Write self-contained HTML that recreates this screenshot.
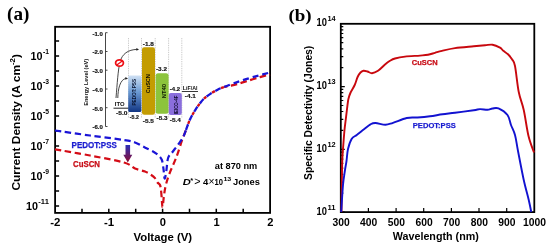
<!DOCTYPE html><html><head><meta charset="utf-8"><style>html,body{margin:0;padding:0;background:#fff;width:550px;height:248px;overflow:hidden}svg{display:block;filter:blur(0.3px)}</style></head><body>
<svg width="550" height="248" viewBox="0 0 550 248">
<rect width="550" height="248" fill="#fff"/>
<defs><linearGradient id="gPed" x1="0" y1="0" x2="0" y2="1"><stop offset="0" stop-color="#cfe0f3"/><stop offset="0.45" stop-color="#6b9ad3"/><stop offset="1" stop-color="#123684"/></linearGradient><linearGradient id="gArr" x1="0" y1="0" x2="0" y2="1"><stop offset="0" stop-color="#2b2fb8"/><stop offset="1" stop-color="#8e0c2e"/></linearGradient></defs>
<text x="7.00" y="19.50" font-family='"Liberation Serif", serif' font-weight="bold" font-size="18.80" textLength="22.40" lengthAdjust="spacingAndGlyphs">(a)</text>
<path d="M55.1,41.0h4 M55.1,56.0h4 M55.1,71.0h4 M55.1,86.0h4 M55.1,101.0h4 M55.1,116.0h4 M55.1,131.0h4 M55.1,146.0h4 M55.1,161.0h4 M55.1,176.0h4 M55.1,191.0h4 M55.1,206.0h4 M82.0,212.8v-4 M108.8,212.8v-4 M135.7,212.8v-4 M162.6,212.8v-4 M189.5,212.8v-4 M216.3,212.8v-4 M243.2,212.8v-4" stroke="#000" stroke-width="1.5" fill="none"/>
<rect x="55.1" y="26.8" width="215.0" height="186.1" fill="none" stroke="#000" stroke-width="1.8"/>
<text x="48.90" y="53.80" font-family='"Liberation Sans", sans-serif' font-weight="bold" font-size="7.20" textLength="6.00" lengthAdjust="spacingAndGlyphs" text-anchor="end">-1</text>
<text x="42.60" y="60.30" font-family='"Liberation Sans", sans-serif' font-weight="bold" font-size="11.00" textLength="12.00" lengthAdjust="spacingAndGlyphs" text-anchor="end">10</text>
<text x="48.90" y="83.80" font-family='"Liberation Sans", sans-serif' font-weight="bold" font-size="7.20" textLength="6.00" lengthAdjust="spacingAndGlyphs" text-anchor="end">-3</text>
<text x="42.60" y="90.30" font-family='"Liberation Sans", sans-serif' font-weight="bold" font-size="11.00" textLength="12.00" lengthAdjust="spacingAndGlyphs" text-anchor="end">10</text>
<text x="48.90" y="113.80" font-family='"Liberation Sans", sans-serif' font-weight="bold" font-size="7.20" textLength="6.00" lengthAdjust="spacingAndGlyphs" text-anchor="end">-5</text>
<text x="42.60" y="120.30" font-family='"Liberation Sans", sans-serif' font-weight="bold" font-size="11.00" textLength="12.00" lengthAdjust="spacingAndGlyphs" text-anchor="end">10</text>
<text x="48.90" y="143.80" font-family='"Liberation Sans", sans-serif' font-weight="bold" font-size="7.20" textLength="6.00" lengthAdjust="spacingAndGlyphs" text-anchor="end">-7</text>
<text x="42.60" y="150.30" font-family='"Liberation Sans", sans-serif' font-weight="bold" font-size="11.00" textLength="12.00" lengthAdjust="spacingAndGlyphs" text-anchor="end">10</text>
<text x="48.90" y="173.80" font-family='"Liberation Sans", sans-serif' font-weight="bold" font-size="7.20" textLength="6.00" lengthAdjust="spacingAndGlyphs" text-anchor="end">-9</text>
<text x="42.60" y="180.30" font-family='"Liberation Sans", sans-serif' font-weight="bold" font-size="11.00" textLength="12.00" lengthAdjust="spacingAndGlyphs" text-anchor="end">10</text>
<text x="48.90" y="203.80" font-family='"Liberation Sans", sans-serif' font-weight="bold" font-size="7.20" textLength="10.60" lengthAdjust="spacingAndGlyphs" text-anchor="end">-11</text>
<text x="38.00" y="210.30" font-family='"Liberation Sans", sans-serif' font-weight="bold" font-size="11.00" textLength="12.00" lengthAdjust="spacingAndGlyphs" text-anchor="end">10</text>
<text x="55.40" y="225.80" font-family='"Liberation Sans", sans-serif' font-weight="bold" font-size="10.80" textLength="10.20" lengthAdjust="spacingAndGlyphs" text-anchor="middle">-2</text>
<text x="109.15" y="225.80" font-family='"Liberation Sans", sans-serif' font-weight="bold" font-size="10.80" textLength="10.20" lengthAdjust="spacingAndGlyphs" text-anchor="middle">-1</text>
<text x="162.90" y="225.80" font-family='"Liberation Sans", sans-serif' font-weight="bold" font-size="10.80" textLength="6.20" lengthAdjust="spacingAndGlyphs" text-anchor="middle">0</text>
<text x="216.65" y="225.80" font-family='"Liberation Sans", sans-serif' font-weight="bold" font-size="10.80" textLength="6.20" lengthAdjust="spacingAndGlyphs" text-anchor="middle">1</text>
<text x="270.40" y="225.80" font-family='"Liberation Sans", sans-serif' font-weight="bold" font-size="10.80" textLength="6.20" lengthAdjust="spacingAndGlyphs" text-anchor="middle">2</text>
<text x="133.50" y="240.60" font-family='"Liberation Sans", sans-serif' font-weight="bold" font-size="10.60" textLength="58.60" lengthAdjust="spacingAndGlyphs">Voltage (V)</text>
<text transform="translate(19.60,190.60) rotate(-90)" font-family='"Liberation Sans", sans-serif' font-weight="bold" font-size="10.60" textLength="125.60" lengthAdjust="spacingAndGlyphs">Current Density (A cm</text>
<text transform="translate(14.60,65.00) rotate(-90)" font-family='"Liberation Sans", sans-serif' font-weight="bold" font-size="7.00" textLength="6.90" lengthAdjust="spacingAndGlyphs">-2</text>
<text transform="translate(19.60,58.10) rotate(-90)" font-family='"Liberation Sans", sans-serif' font-weight="bold" font-size="10.60" textLength="3.90" lengthAdjust="spacingAndGlyphs">)</text>
<path d="M55.00,149.30 C60.83,150.33 78.50,153.30 90.00,155.50 C101.50,157.70 116.50,160.33 124.00,162.50 C131.50,164.67 131.50,167.00 135.00,168.50 C138.50,170.00 142.29,170.42 145.00,171.50 C147.71,172.58 149.58,173.90 151.25,175.00 C152.92,176.10 153.96,176.85 155.00,178.10 C156.04,179.35 156.67,181.35 157.50,182.50 C158.33,183.65 159.38,183.42 160.00,185.00 C160.62,186.58 160.78,188.33 161.20,192.00 C161.62,195.67 162.07,206.17 162.50,207.00 C162.93,207.83 163.28,200.50 163.80,197.00 C164.32,193.50 164.67,189.88 165.60,186.00 C166.53,182.12 167.62,178.50 169.40,173.75 C171.18,169.00 174.15,163.04 176.25,157.50 C178.35,151.96 180.38,145.08 182.00,140.50 C183.62,135.92 184.83,133.12 186.00,130.00" stroke="#d40c16" stroke-width="2.2" fill="none" stroke-dasharray="6.3 3.7"/>
<path d="M55.00,130.50 C60.83,131.33 78.50,133.92 90.00,135.50 C101.50,137.08 116.50,138.83 124.00,140.00 C131.50,141.17 131.92,141.46 135.00,142.50 C138.08,143.54 140.42,145.21 142.50,146.25 C144.58,147.29 145.62,147.81 147.50,148.75 C149.38,149.69 151.98,150.86 153.75,151.90 C155.52,152.94 156.74,153.65 158.10,155.00 C159.46,156.35 160.98,157.50 161.90,160.00 C162.82,162.50 163.15,166.92 163.60,170.00 C164.05,173.08 164.17,178.17 164.60,178.50 C165.03,178.83 165.62,175.42 166.20,172.00 C166.78,168.58 167.05,161.33 168.10,158.00 C169.15,154.67 170.72,154.38 172.50,152.00 C174.28,149.62 177.00,146.17 178.75,143.75 C180.50,141.33 181.79,139.79 183.00,137.50 C184.21,135.21 185.00,132.62 186.00,130.00" stroke="#1a14d6" stroke-width="2.2" fill="none" stroke-dasharray="6.3 3.7"/>
<path d="M186.00,130.00 C187.17,126.88 188.00,124.22 189.00,121.80 C190.00,119.38 190.83,117.65 192.00,115.50 C193.17,113.35 194.75,110.82 196.00,108.90 C197.25,106.98 198.23,105.65 199.50,104.00 C200.77,102.35 201.85,100.65 203.60,99.00 C205.35,97.35 207.60,95.68 210.00,94.10 C212.40,92.52 215.67,90.68 218.00,89.50 C220.33,88.32 221.67,87.68 224.00,87.00" stroke="#d40c16" stroke-width="2.3" fill="none" stroke-dasharray="3.2 6.8" stroke-dashoffset="3.6"/>
<path d="M224.00,87.00 C226.33,86.32 229.33,86.03 232.00,85.40 C234.67,84.77 237.00,84.08 240.00,83.20 C243.00,82.32 246.67,81.12 250.00,80.10 C253.33,79.08 256.67,78.05 260.00,77.10 C263.33,76.15 268.33,74.85 270.00,74.40" stroke="#d40c16" stroke-width="2.3" fill="none" stroke-dasharray="6.6 3.4" stroke-dashoffset="3"/>
<path d="M186.00,130.00 C187.00,127.38 188.00,124.22 189.00,121.80 C190.00,119.38 190.83,117.65 192.00,115.50 C193.17,113.35 194.75,110.82 196.00,108.90 C197.25,106.98 198.23,105.65 199.50,104.00 C200.77,102.35 201.85,100.65 203.60,99.00 C205.35,97.35 207.60,95.68 210.00,94.10 C212.40,92.52 215.67,90.68 218.00,89.50 C220.33,88.32 221.67,87.92 224.00,87.00 C226.33,86.08 229.33,84.97 232.00,84.00 C234.67,83.03 237.00,82.20 240.00,81.20 C243.00,80.20 246.67,79.00 250.00,78.00 C253.33,77.00 256.67,76.12 260.00,75.20 C263.33,74.28 268.33,72.95 270.00,72.50" stroke="#1a14d6" stroke-width="2.3" fill="none" stroke-dasharray="6 4"/>
<text x="71.60" y="148.10" font-family='"Liberation Sans", sans-serif' font-weight="bold" font-size="8.20" textLength="45.20" lengthAdjust="spacingAndGlyphs" fill="#1a1cd0" stroke="#1a1cd0" stroke-width="0.25">PEDOT:PSS</text>
<text x="73.00" y="166.80" font-family='"Liberation Sans", sans-serif' font-weight="bold" font-size="8.40" textLength="27.00" lengthAdjust="spacingAndGlyphs" fill="#c80c16" stroke="#c80c16" stroke-width="0.25">CuSCN</text>
<path d="M125.5,145 h4.6 v9.8 h2.2 l-4.5,7.8 l-4.5,-7.8 h2.2 z" fill="url(#gArr)"/>
<text x="214.80" y="169.10" font-family='"Liberation Sans", sans-serif' font-weight="bold" font-size="8.60" textLength="42.50" lengthAdjust="spacingAndGlyphs">at 870 nm</text>
<text x="182.8" y="184.7" font-family='"Liberation Sans", sans-serif' font-weight="bold" font-style="italic" font-size="8.8" textLength="8" lengthAdjust="spacingAndGlyphs">D</text>
<text x="190.20" y="183.20" font-family='"Liberation Sans", sans-serif' font-weight="bold" font-size="7.60" textLength="3.00" lengthAdjust="spacingAndGlyphs">*</text>
<text x="194.30" y="184.80" font-family='"Liberation Sans", sans-serif' font-weight="normal" font-size="10.50" textLength="6.30" lengthAdjust="spacingAndGlyphs">&gt;</text>
<text x="203.00" y="184.70" font-family='"Liberation Sans", sans-serif' font-weight="bold" font-size="8.80" textLength="5.30" lengthAdjust="spacingAndGlyphs">4</text>
<text x="208.50" y="184.60" font-family='"Liberation Sans", sans-serif' font-weight="normal" font-size="10.20" textLength="6.00" lengthAdjust="spacingAndGlyphs">×</text>
<text x="214.60" y="184.70" font-family='"Liberation Sans", sans-serif' font-weight="bold" font-size="8.80" textLength="8.50" lengthAdjust="spacingAndGlyphs">10</text>
<text x="223.40" y="180.80" font-family='"Liberation Sans", sans-serif' font-weight="bold" font-size="5.90" textLength="7.90" lengthAdjust="spacingAndGlyphs">13</text>
<text x="233.00" y="184.70" font-family='"Liberation Sans", sans-serif' font-weight="bold" font-size="8.80" textLength="26.90" lengthAdjust="spacingAndGlyphs">Jones</text>
<path d="M128.5,38v80 M141.5,38v80 M155.2,38v80 M168.6,38v80 M181.8,38v80" stroke="#b4b4b4" stroke-width="0.7" stroke-dasharray="1.3 1" fill="none"/>
<path d="M107.5,32.7 h-2 V126.5 h2 M105.5,51.5h2 M105.5,70.2h2 M105.5,89.0h2 M105.5,107.7h2" stroke="#333" stroke-width="0.9" fill="none"/>
<text x="102.90" y="35.50" font-family='"Liberation Sans", sans-serif' font-weight="bold" font-size="5.40" textLength="10.40" lengthAdjust="spacingAndGlyphs" text-anchor="end" fill="#111" stroke="#111" stroke-width="0.15">-1.0</text>
<text x="102.90" y="54.25" font-family='"Liberation Sans", sans-serif' font-weight="bold" font-size="5.40" textLength="10.40" lengthAdjust="spacingAndGlyphs" text-anchor="end" fill="#111" stroke="#111" stroke-width="0.15">-2.0</text>
<text x="102.90" y="73.00" font-family='"Liberation Sans", sans-serif' font-weight="bold" font-size="5.40" textLength="10.40" lengthAdjust="spacingAndGlyphs" text-anchor="end" fill="#111" stroke="#111" stroke-width="0.15">-3.0</text>
<text x="102.90" y="91.75" font-family='"Liberation Sans", sans-serif' font-weight="bold" font-size="5.40" textLength="10.40" lengthAdjust="spacingAndGlyphs" text-anchor="end" fill="#111" stroke="#111" stroke-width="0.15">-4.0</text>
<text x="102.90" y="110.50" font-family='"Liberation Sans", sans-serif' font-weight="bold" font-size="5.40" textLength="10.40" lengthAdjust="spacingAndGlyphs" text-anchor="end" fill="#111" stroke="#111" stroke-width="0.15">-5.0</text>
<text x="102.90" y="129.25" font-family='"Liberation Sans", sans-serif' font-weight="bold" font-size="5.40" textLength="10.40" lengthAdjust="spacingAndGlyphs" text-anchor="end" fill="#111" stroke="#111" stroke-width="0.15">-6.0</text>
<text transform="translate(87.90,105.80) rotate(-90)" font-family='"Liberation Sans", sans-serif' font-weight="bold" font-size="5.80" textLength="47.00" lengthAdjust="spacingAndGlyphs" fill="#111">Energy Level (eV)</text>
<path d="M113.5,108.2 H128.7" stroke="#222" stroke-width="1"/>
<text x="114.80" y="106.40" font-family='"Liberation Sans", sans-serif' font-weight="bold" font-size="5.00" textLength="9.80" lengthAdjust="spacingAndGlyphs" fill="#111">ITO</text>
<text x="116.00" y="115.20" font-family='"Liberation Sans", sans-serif' font-weight="bold" font-size="5.40" textLength="11.40" lengthAdjust="spacingAndGlyphs" fill="#111" stroke="#111" stroke-width="0.15">-5.0</text>
<rect x="128.2" y="75.6" width="13.2" height="36.3" rx="1.5" fill="url(#gPed)"/>
<text transform="translate(136.40,105.60) rotate(-90)" font-family='"Liberation Sans", sans-serif' font-weight="bold" font-size="5.40" textLength="26.70" lengthAdjust="spacingAndGlyphs" fill="#08122e">PEDOT:PSS</text>
<text x="129.80" y="118.60" font-family='"Liberation Sans", sans-serif' font-weight="bold" font-size="5.40" textLength="9.00" lengthAdjust="spacingAndGlyphs" fill="#111" stroke="#111" stroke-width="0.15">-5.2</text>
<rect x="142" y="47.3" width="13" height="67.5" rx="2.2" fill="#c39c02"/>
<text transform="translate(150.40,93.30) rotate(-90)" font-family='"Liberation Sans", sans-serif' font-weight="bold" font-size="5.40" textLength="19.20" lengthAdjust="spacingAndGlyphs" fill="#0e0b00">CuSCN</text>
<text x="142.80" y="46.40" font-family='"Liberation Sans", sans-serif' font-weight="bold" font-size="5.40" textLength="11.00" lengthAdjust="spacingAndGlyphs" fill="#111" stroke="#111" stroke-width="0.15">-1.8</text>
<text x="142.80" y="123.20" font-family='"Liberation Sans", sans-serif' font-weight="bold" font-size="5.40" textLength="11.00" lengthAdjust="spacingAndGlyphs" fill="#111" stroke="#111" stroke-width="0.15">-5.5</text>
<rect x="155.6" y="73.3" width="13" height="40.4" rx="2.5" fill="#8cc43c"/>
<text transform="translate(165.90,98.30) rotate(-90)" font-family='"Liberation Sans", sans-serif' font-weight="bold" font-size="5.40" textLength="14.20" lengthAdjust="spacingAndGlyphs" fill="#0a1400">NT40</text>
<text x="156.00" y="70.90" font-family='"Liberation Sans", sans-serif' font-weight="bold" font-size="5.40" textLength="11.00" lengthAdjust="spacingAndGlyphs" fill="#111" stroke="#111" stroke-width="0.15">-3.2</text>
<text x="156.60" y="120.20" font-family='"Liberation Sans", sans-serif' font-weight="bold" font-size="5.40" textLength="11.00" lengthAdjust="spacingAndGlyphs" fill="#111" stroke="#111" stroke-width="0.15">-5.3</text>
<rect x="168.8" y="92.9" width="13" height="22.2" rx="2" fill="#8a6edc"/>
<text transform="translate(177.50,114.30) rotate(-90)" font-family='"Liberation Sans", sans-serif' font-weight="bold" font-size="5.00" textLength="18.80" lengthAdjust="spacingAndGlyphs" fill="#0c0828">IEICO-4F</text>
<text x="169.80" y="90.90" font-family='"Liberation Sans", sans-serif' font-weight="bold" font-size="5.40" textLength="10.40" lengthAdjust="spacingAndGlyphs" fill="#111" stroke="#111" stroke-width="0.15">-4.2</text>
<text x="169.80" y="122.10" font-family='"Liberation Sans", sans-serif' font-weight="bold" font-size="5.40" textLength="11.00" lengthAdjust="spacingAndGlyphs" fill="#111" stroke="#111" stroke-width="0.15">-5.4</text>
<path d="M182,91.5 H198" stroke="#222" stroke-width="0.9"/>
<text x="182.80" y="89.50" font-family='"Liberation Sans", sans-serif' font-weight="bold" font-size="5.00" textLength="14.80" lengthAdjust="spacingAndGlyphs" fill="#111">LiF/Al</text>
<text x="184.80" y="98.20" font-family='"Liberation Sans", sans-serif' font-weight="bold" font-size="5.40" textLength="11.00" lengthAdjust="spacingAndGlyphs" fill="#111" stroke="#111" stroke-width="0.15">-4.1</text>
<path d="M116,98 C117.2,84 118,70 120,62 C122,54 128,49.6 137.2,49.4" stroke="#333" stroke-width="0.9" fill="none"/>
<path d="M139,49.4 l-2.6,-1.4 v2.8 z" fill="#222"/>
<path d="M117.8,98 C118,89 120,79.5 126,78.4" stroke="#333" stroke-width="0.9" fill="none"/>
<path d="M128,78.4 l-2.6,-1.4 v2.8 z" fill="#222"/>
<ellipse cx="119.5" cy="63" rx="3.9" ry="3.2" fill="#fff" stroke="#ee1016" stroke-width="1.8"/>
<path d="M116.8,65 L122.2,61" stroke="#ee1016" stroke-width="1.3"/>
<text x="288.40" y="20.50" font-family='"Liberation Serif", serif' font-weight="bold" font-size="16.40" textLength="23.30" lengthAdjust="spacingAndGlyphs">(b)</text>
<path d="M340.8,212.1h4 M340.8,193.2h2.5 M340.8,182.2h2.5 M340.8,174.3h2.5 M340.8,168.2h2.5 M340.8,163.3h2.5 M340.8,159.1h2.5 M340.8,155.4h2.5 M340.8,152.2h2.5 M340.8,149.3h4 M340.8,130.4h2.5 M340.8,119.4h2.5 M340.8,111.5h2.5 M340.8,105.5h2.5 M340.8,100.5h2.5 M340.8,96.3h2.5 M340.8,92.6h2.5 M340.8,89.4h2.5 M340.8,86.6h4 M340.8,67.7h2.5 M340.8,56.6h2.5 M340.8,48.8h2.5 M340.8,42.7h2.5 M340.8,37.7h2.5 M340.8,33.5h2.5 M340.8,29.9h2.5 M340.8,26.7h2.5 M368.4,212.1v-4 M396.1,212.1v-4 M423.7,212.1v-4 M451.4,212.1v-4 M479.0,212.1v-4 M506.7,212.1v-4" stroke="#000" stroke-width="1.2" fill="none"/>
<rect x="340.8" y="23.8" width="193.5" height="188.3" fill="none" stroke="#000" stroke-width="1.8"/>
<text x="327.00" y="214.70" font-family='"Liberation Sans", sans-serif' font-weight="bold" font-size="10.60" textLength="10.40" lengthAdjust="spacingAndGlyphs" text-anchor="end">10</text>
<text x="327.40" y="209.60" font-family='"Liberation Sans", sans-serif' font-weight="bold" font-size="6.60" textLength="8.20" lengthAdjust="spacingAndGlyphs">11</text>
<text x="327.00" y="151.93" font-family='"Liberation Sans", sans-serif' font-weight="bold" font-size="10.60" textLength="10.40" lengthAdjust="spacingAndGlyphs" text-anchor="end">10</text>
<text x="327.40" y="146.83" font-family='"Liberation Sans", sans-serif' font-weight="bold" font-size="6.60" textLength="8.20" lengthAdjust="spacingAndGlyphs">12</text>
<text x="327.00" y="89.17" font-family='"Liberation Sans", sans-serif' font-weight="bold" font-size="10.60" textLength="10.40" lengthAdjust="spacingAndGlyphs" text-anchor="end">10</text>
<text x="327.40" y="84.07" font-family='"Liberation Sans", sans-serif' font-weight="bold" font-size="6.60" textLength="8.20" lengthAdjust="spacingAndGlyphs">13</text>
<text x="327.00" y="26.40" font-family='"Liberation Sans", sans-serif' font-weight="bold" font-size="10.60" textLength="10.40" lengthAdjust="spacingAndGlyphs" text-anchor="end">10</text>
<text x="327.40" y="21.30" font-family='"Liberation Sans", sans-serif' font-weight="bold" font-size="6.60" textLength="8.20" lengthAdjust="spacingAndGlyphs">14</text>
<text x="341.10" y="225.60" font-family='"Liberation Sans", sans-serif' font-weight="bold" font-size="10.00" textLength="17.20" lengthAdjust="spacingAndGlyphs" text-anchor="middle">300</text>
<text x="368.74" y="225.60" font-family='"Liberation Sans", sans-serif' font-weight="bold" font-size="10.00" textLength="17.20" lengthAdjust="spacingAndGlyphs" text-anchor="middle">400</text>
<text x="396.39" y="225.60" font-family='"Liberation Sans", sans-serif' font-weight="bold" font-size="10.00" textLength="17.20" lengthAdjust="spacingAndGlyphs" text-anchor="middle">500</text>
<text x="424.03" y="225.60" font-family='"Liberation Sans", sans-serif' font-weight="bold" font-size="10.00" textLength="17.20" lengthAdjust="spacingAndGlyphs" text-anchor="middle">600</text>
<text x="451.67" y="225.60" font-family='"Liberation Sans", sans-serif' font-weight="bold" font-size="10.00" textLength="17.20" lengthAdjust="spacingAndGlyphs" text-anchor="middle">700</text>
<text x="479.31" y="225.60" font-family='"Liberation Sans", sans-serif' font-weight="bold" font-size="10.00" textLength="17.20" lengthAdjust="spacingAndGlyphs" text-anchor="middle">800</text>
<text x="506.96" y="225.60" font-family='"Liberation Sans", sans-serif' font-weight="bold" font-size="10.00" textLength="17.20" lengthAdjust="spacingAndGlyphs" text-anchor="middle">900</text>
<text x="534.60" y="225.60" font-family='"Liberation Sans", sans-serif' font-weight="bold" font-size="10.00" textLength="23.00" lengthAdjust="spacingAndGlyphs" text-anchor="middle">1000</text>
<text x="392.80" y="239.70" font-family='"Liberation Sans", sans-serif' font-weight="bold" font-size="10.20" textLength="86.00" lengthAdjust="spacingAndGlyphs">Wavelength (nm)</text>
<text transform="translate(311.60,179.90) rotate(-90)" font-family='"Liberation Sans", sans-serif' font-weight="bold" font-size="10.00" textLength="134.20" lengthAdjust="spacingAndGlyphs">Specific Detectivity (Jones)</text>
<path d="M341.50,212.00 C341.55,207.50 341.67,193.67 341.80,185.00 C341.93,176.33 342.05,166.67 342.30,160.00 C342.55,153.33 342.93,150.00 343.30,145.00 C343.67,140.00 344.10,134.17 344.50,130.00 C344.90,125.83 345.30,123.33 345.70,120.00 C346.10,116.67 346.45,113.50 346.90,110.00 C347.35,106.50 347.78,101.92 348.40,99.00 C349.02,96.08 349.55,94.83 350.60,92.50 C351.65,90.17 353.53,87.58 354.70,85.00 C355.87,82.42 356.63,79.08 357.60,77.00 C358.57,74.92 359.52,73.53 360.50,72.50 C361.48,71.47 362.33,70.97 363.50,70.80 C364.67,70.63 366.08,71.10 367.50,71.50 C368.92,71.90 370.25,73.32 372.00,73.20 C373.75,73.08 375.83,72.25 378.00,70.80 C380.17,69.35 383.00,66.17 385.00,64.50 C387.00,62.83 388.33,61.80 390.00,60.80 C391.67,59.80 392.50,59.20 395.00,58.50 C397.50,57.80 400.83,57.08 405.00,56.60 C409.17,56.12 416.17,55.90 420.00,55.60 C423.83,55.30 425.50,55.27 428.00,54.80 C430.50,54.33 432.67,53.47 435.00,52.80 C437.33,52.13 438.67,51.58 442.00,50.80 C445.33,50.02 449.71,48.85 455.00,48.10 C460.29,47.35 468.75,46.77 473.75,46.30 C478.75,45.83 481.88,45.57 485.00,45.30 C488.12,45.03 490.00,44.32 492.50,44.70 C495.00,45.08 498.25,46.63 500.00,47.60 C501.75,48.57 501.67,49.38 503.00,50.50 C504.33,51.62 506.50,52.83 508.00,54.30 C509.50,55.77 510.83,57.35 512.00,59.30 C513.17,61.25 513.88,60.55 515.00,66.00 C516.12,71.45 517.29,84.67 518.75,92.00 C520.21,99.33 522.12,102.67 523.75,110.00 C525.38,117.33 526.79,128.92 528.50,136.00 C530.21,143.08 533.08,149.75 534.00,152.50" stroke="#c8080e" stroke-width="1.9" fill="none" stroke-linejoin="round"/>
<path d="M341.20,212.00 C341.50,207.50 342.37,192.00 343.00,185.00 C343.63,178.00 344.42,174.00 345.00,170.00 C345.58,166.00 346.00,164.50 346.50,161.00 C347.00,157.50 347.12,152.71 348.00,149.00 C348.88,145.29 350.29,141.08 351.75,138.75 C353.21,136.42 354.71,136.57 356.75,135.00 C358.79,133.43 361.71,131.08 364.00,129.30 C366.29,127.52 368.58,125.35 370.50,124.30 C372.42,123.25 373.00,122.92 375.50,123.00 C378.00,123.08 382.58,124.83 385.50,124.80 C388.42,124.77 389.46,123.93 393.00,122.80 C396.54,121.67 402.67,118.88 406.75,118.00 C410.83,117.12 413.62,117.78 417.50,117.50 C421.38,117.22 425.83,116.83 430.00,116.30 C434.17,115.77 438.33,114.88 442.50,114.30 C446.67,113.72 449.79,113.48 455.00,112.80 C460.21,112.12 469.58,110.82 473.75,110.20 C477.92,109.58 477.71,109.17 480.00,109.10 C482.29,109.03 485.42,109.90 487.50,109.80 C489.58,109.70 490.67,108.73 492.50,108.50 C494.33,108.27 496.00,107.32 498.50,108.40 C501.00,109.48 505.42,112.23 507.50,115.00 C509.58,117.77 509.75,121.67 511.00,125.00 C512.25,128.33 513.83,130.67 515.00,135.00 C516.17,139.33 516.54,143.50 518.00,151.00 C519.46,158.50 521.96,171.83 523.75,180.00 C525.54,188.17 527.50,194.67 528.75,200.00 C530.00,205.33 530.83,210.00 531.25,212.00" stroke="#1212d0" stroke-width="1.9" fill="none" stroke-linejoin="round"/>
<text x="411.80" y="64.80" font-family='"Liberation Sans", sans-serif' font-weight="bold" font-size="7.60" textLength="25.80" lengthAdjust="spacingAndGlyphs" fill="#c80c16" stroke="#c80c16" stroke-width="0.25">CuSCN</text>
<text x="412.80" y="127.90" font-family='"Liberation Sans", sans-serif' font-weight="bold" font-size="7.80" textLength="43.00" lengthAdjust="spacingAndGlyphs" fill="#1a1cd0" stroke="#1a1cd0" stroke-width="0.25">PEDOT:PSS</text>
</svg></body></html>
